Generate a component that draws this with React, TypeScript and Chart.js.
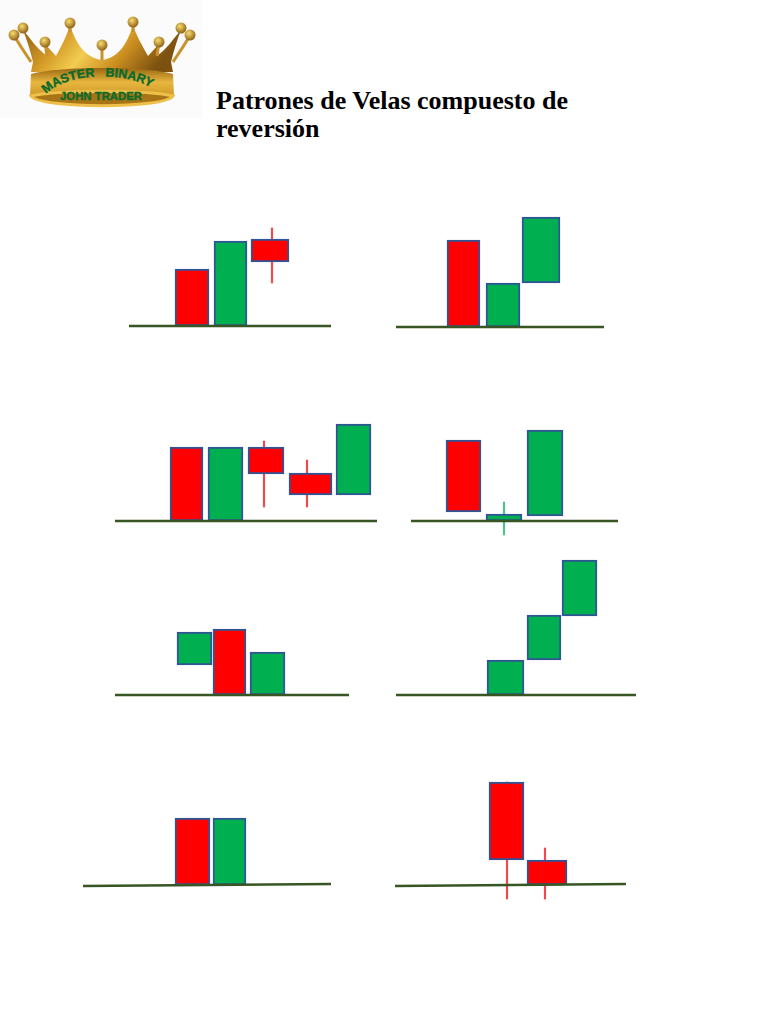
import React, { useEffect, useRef } from "react";
import { Chart, registerables } from "chart.js";

Chart.register(...registerables);

// Candle values: height above each pattern's baseline
const p1Labels = ["Vela 1", "Vela 2", "Vela 3"];
const p1Open = [57, 0, 87];
const p1Close = [0, 85, 64];
const p1High = [null, null, 98];
const p1Low = [null, null, 43];

const p2Labels = ["Vela 1", "Vela 2", "Vela 3"];
const p2Open = [87, 0, 44];
const p2Close = [0, 44, 110];
const p2High = [null, null, null];
const p2Low = [null, null, null];

const p3Labels = ["Vela 1", "Vela 2", "Vela 3", "Vela 4", "Vela 5"];
const p3Open = [74, 0, 74, 48, 26];
const p3Close = [0, 74, 47, 26, 97];
const p3High = [null, null, 80, 61, null];
const p3Low = [null, null, 14, 14, null];

const p4Labels = ["Vela 1", "Vela 2", "Vela 3"];
const p4Open = [81, 0, 5];
const p4Close = [9, 7, 91];
const p4High = [null, 19, null];
const p4Low = [null, -14, null];

const p5Labels = ["Vela 1", "Vela 2", "Vela 3"];
const p5Open = [30, 66, 0];
const p5Close = [63, 0, 43];
const p5High = [null, null, null];
const p5Low = [null, null, null];

const p6Labels = ["Vela 1", "Vela 2", "Vela 3"];
const p6Open = [0, 35, 79];
const p6Close = [35, 80, 135];
const p6High = [null, null, null];
const p6Low = [null, null, null];

const p7Labels = ["Vela 1", "Vela 2"];
const p7Open = [67, 0];
const p7Close = [0, 67];
const p7High = [null, null];
const p7Low = [null, null];

const p8Labels = ["Vela 1", "Vela 2"];
const p8Open = [103, 25];
const p8Close = [25, 0];
const p8High = [103, 37];
const p8Low = [-14, -14];

const baselineSlope7 = [-1, 1];
const baselineSlope8 = [-1, 1];
const baselineFlat = [0, 0];

const titleLines = ["Patrones de Velas compuesto de", "reversión"];

const panels = [
  { labels: p1Labels, open: p1Open, close: p1Close, high: p1High, low: p1Low, level: baselineFlat,
    base: 326, from: 129, to: 331, edges: [[175, 209], [214, 247], [251, 289]], wick: [272], up: 105, down: 10 },
  { labels: p2Labels, open: p2Open, close: p2Close, high: p2High, low: p2Low, level: baselineFlat,
    base: 327, from: 396, to: 604, edges: [[447, 480], [486, 520], [522, 560]], wick: [], up: 115, down: 10 },
  { labels: p3Labels, open: p3Open, close: p3Close, high: p3High, low: p3Low, level: baselineFlat,
    base: 521, from: 115, to: 377, edges: [[170, 203], [208, 243], [248, 284], [289, 332], [336, 371]], wick: [264, 307], up: 100, down: 10 },
  { labels: p4Labels, open: p4Open, close: p4Close, high: p4High, low: p4Low, level: baselineFlat,
    base: 521, from: 411, to: 618, edges: [[446, 481], [486, 522], [527, 563]], wick: [504], up: 95, down: 20 },
  { labels: p5Labels, open: p5Open, close: p5Close, high: p5High, low: p5Low, level: baselineFlat,
    base: 695, from: 115, to: 349, edges: [[177, 212], [213, 246], [250, 285]], wick: [], up: 70, down: 10 },
  { labels: p6Labels, open: p6Open, close: p6Close, high: p6High, low: p6Low, level: baselineFlat,
    base: 695, from: 396, to: 636, edges: [[487, 524], [527, 561], [562, 597]], wick: [], up: 140, down: 10 },
  { labels: p7Labels, open: p7Open, close: p7Close, high: p7High, low: p7Low, level: baselineSlope7,
    base: 885, from: 83, to: 331, edges: [[175, 210], [213, 246]], wick: [], up: 70, down: 10 },
  { labels: p8Labels, open: p8Open, close: p8Close, high: p8High, low: p8Low, level: baselineSlope8,
    base: 885, from: 395, to: 626, edges: [[489, 524], [527, 567]], wick: [507, 545], up: 108, down: 20 },
];

const RED = "#ff0000";
const GREEN = "#00b050";
const EDGE = "#2f5597";
const LINE = "#375623";

function Panel({ p }: { p: (typeof panels)[number] }) {
  const ref = useRef<HTMLCanvasElement>(null);
  useEffect(() => {
    const candles = p.labels.map((label, i) => {
      const [l, r] = p.edges[i];
      const bull = p.close[i] > p.open[i];
      return {
        type: "bar" as const,
        label,
        order: 1,
        grouped: false,
        barThickness: r - l,
        backgroundColor: bull ? GREEN : RED,
        borderColor: EDGE,
        borderWidth: 2,
        borderSkipped: false,
        data: [{ x: (l + r) / 2, y: [p.open[i], p.close[i]] }],
      };
    });
    let w = 0;
    const wicks: any[] = [];
    p.labels.forEach((label, i) => {
      if (p.high[i] === null || p.low[i] === null) return;
      const bull = p.close[i] > p.open[i];
      wicks.push({
        type: "bar" as const,
        label: label + " mecha",
        order: 2,
        grouped: false,
        barThickness: 1.5,
        backgroundColor: bull ? "#4cc48c" : "#f4474c",
        borderWidth: 0,
        data: [{ x: p.wick[w], y: [p.low[i], p.high[i]] }],
      });
      w += 1;
    });
    const chart = new Chart(ref.current!, {
      type: "bar",
      data: {
        datasets: [
          ...candles,
          ...wicks,
          {
            type: "line" as const,
            label: "Base",
            order: 0,
            borderColor: LINE,
            borderWidth: 2.5,
            pointRadius: 0,
            data: [
              { x: p.from, y: p.level[0] },
              { x: p.to, y: p.level[1] },
            ],
          },
        ],
      } as any,
      options: {
        animation: false,
        responsive: false,
        layout: { padding: 0 },
        plugins: { legend: { display: false }, tooltip: { enabled: false } },
        scales: {
          x: { type: "linear", display: false, min: p.from - 5, max: p.to + 5, offset: false },
          y: { type: "linear", display: false, min: -p.down, max: p.up },
        },
      } as any,
    });
    return () => chart.destroy();
  }, [p]);
  return (
    <canvas
      ref={ref}
      width={p.to - p.from + 10}
      height={p.up + p.down}
      style={{ position: "absolute", left: p.from - 5, top: p.base - p.up, display: "block" }}
    />
  );
}

function Crown() {
  const balls = [[14, 35], [23, 28], [45, 42], [70, 23], [102, 45], [133, 22], [159, 42], [181, 28], [190, 35]];
  const stems = [[70, 23, 70, 32], [133, 22, 133, 32], [102, 45, 102, 60], [45, 42, 47, 56], [159, 42, 157, 56]];
  return (
    <svg width={202} height={118} style={{ position: "absolute", left: 0, top: 0 }}>
      <defs>
        <linearGradient id="gold" x1="0" y1="0" x2="1" y2="0.25">
          <stop offset="0" stopColor="#8a5a10" />
          <stop offset="0.3" stopColor="#d49a26" />
          <stop offset="0.5" stopColor="#f2cc50" />
          <stop offset="0.75" stopColor="#c98c1e" />
          <stop offset="1" stopColor="#7d5210" />
        </linearGradient>
        <linearGradient id="band" x1="0" y1="0" x2="0" y2="1">
          <stop offset="0" stopColor="#9a6612" />
          <stop offset="0.4" stopColor="#e8b63e" />
          <stop offset="1" stopColor="#c08a1e" />
        </linearGradient>
        <radialGradient id="ball" cx="0.4" cy="0.35" r="0.7">
          <stop offset="0" stopColor="#f8dc70" />
          <stop offset="1" stopColor="#8a5a10" />
        </radialGradient>
        <path id="arc" d="M46 94 C66 72 132 70 157 92" fill="none" />
      </defs>
      <rect width={202} height={118} fill="#fbfbfb" />
      <path d="M15 37 C20 46 26 54 31 62" stroke="#c9922a" strokeWidth={3} fill="none" />
      <path d="M189 37 C184 46 178 54 173 62" stroke="#c9922a" strokeWidth={3} fill="none" />
      <path d="M31 72 L33 62 C30 50 27 40 23 30 C30 38 38 50 46 55 L45 44 L56 56 C62 45 67 35 70 25 C75 42 85 58 102 60 C119 58 128 42 133 25 C136 35 142 45 148 56 L159 44 L158 55 C166 50 174 38 181 30 C177 40 174 50 171 62 L173 72 Z" fill="url(#gold)" />
      {stems.map(([a, b, c, d], i) => (
        <line key={i} x1={a} y1={b} x2={c} y2={d} stroke="#c9922a" strokeWidth={3} />
      ))}
      <path d="M31 74 C60 66 144 66 173 74 L174 96 C150 106 54 106 30 96 Z" fill="url(#band)" />
      <path d="M31 96 C55 90 149 90 173 96 C165 109 40 109 31 96 Z" fill="#a87416" stroke="#eec04a" strokeWidth={3} />
      {balls.map(([cx, cy], i) => (
        <circle key={i} cx={cx} cy={cy} r={5.5} fill="url(#ball)" />
      ))}
      <text fontFamily="Liberation Sans" fontWeight="bold" fontSize={12.5} fill="#0a6b2a" stroke="#0a6b2a" strokeWidth={0.4}>
        <textPath href="#arc">{"MASTER\u00a0\u00a0\u00a0BINARY"}</textPath>
      </text>
      <text x={60} y={100} fontFamily="Liberation Sans" fontWeight="bold" fontSize={11} fill="#0a6b2a" stroke="#0a6b2a" strokeWidth={0.3} textLength={82} lengthAdjust="spacingAndGlyphs">JOHN TRADER</text>
    </svg>
  );
}

export default function App() {
  return (
    <div style={{ position: "absolute", left: 0, top: 0, width: 768, height: 1024, background: "#fff", overflow: "hidden" }}>
      <Crown />
      {titleLines.map((t, i) => (
        <div
          key={t}
          style={{
            position: "absolute",
            left: 216,
            top: 86 + i * 28,
            fontFamily: "'Liberation Serif', serif",
            fontWeight: "bold",
            fontSize: 26,
            lineHeight: "30px",
            whiteSpace: "nowrap",
            color: "#000",
          }}
        >
          {t}
        </div>
      ))}
      {panels.map((p, i) => (
        <Panel key={i} p={p} />
      ))}
    </div>
  );
}
